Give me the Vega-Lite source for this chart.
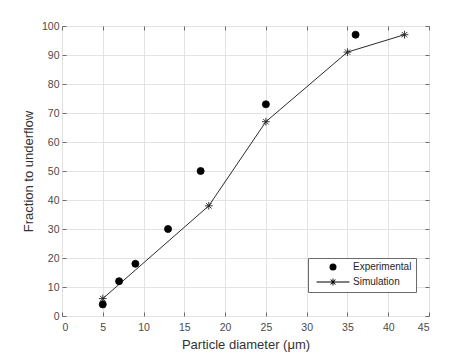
{
  "$schema": "https://vega.github.io/schema/vega-lite/v6.json",
  "width": 367,
  "height": 290,
  "autosize": {"type": "none"},
  "padding": {"left": 62, "top": 26, "right": 45, "bottom": 39},
  "background": "white",
  "config": {
    "view": {"stroke": "#6b6b6b", "strokeWidth": 1},
    "font": "Liberation Sans",
    "axis": {
      "domain": false,
      "tickSize": -4,
      "tickColor": "#6b6b6b",
      "gridColor": "#e3e3e3",
      "labelFont": "Liberation Sans",
      "labelFontSize": 10.5,
      "labelColor": "#4a4a4a",
      "titleFont": "Liberation Sans",
      "titleFontSize": 13,
      "titleFontWeight": "normal",
      "titleColor": "#333333"
    }
  },
  "data": {
    "values": [
      {"series": "Experimental", "d": 5, "f": 4},
      {"series": "Experimental", "d": 7, "f": 12},
      {"series": "Experimental", "d": 9, "f": 18},
      {"series": "Experimental", "d": 13, "f": 30},
      {"series": "Experimental", "d": 17, "f": 50},
      {"series": "Experimental", "d": 25, "f": 73},
      {"series": "Experimental", "d": 36, "f": 97},
      {"series": "Simulation", "d": 5, "f": 6},
      {"series": "Simulation", "d": 18, "f": 38},
      {"series": "Simulation", "d": 25, "f": 67},
      {"series": "Simulation", "d": 35, "f": 91},
      {"series": "Simulation", "d": 42, "f": 97}
    ]
  },
  "layer": [
    {
      "transform": [{"filter": "datum.series === 'Simulation'"}],
      "mark": {"type": "line", "color": "#2b2b2b", "strokeWidth": 1},
      "encoding": {
        "x": {
          "field": "d", "type": "quantitative",
          "scale": {"domain": [0, 45], "nice": false},
          "axis": {"orient": "bottom", "values": [0,5,10,15,20,25,30,35,40,45], "grid": true, "labelPadding": 10, "title": "Particle diameter (μm)", "titlePadding": 6}
        },
        "y": {
          "field": "f", "type": "quantitative",
          "scale": {"domain": [0, 100], "nice": false},
          "axis": {"orient": "left", "values": [0,10,20,30,40,50,60,70,80,90,100], "grid": true, "labelPadding": 7, "title": "Fraction to underflow", "titlePadding": 6}
        }
      }
    },
    {
      "transform": [{"filter": "datum.series === 'Simulation'"}],
      "mark": {"type": "point", "shape": "M-1,0L1,0M0,-1L0,1M-0.7,-0.7L0.7,0.7M-0.7,0.7L0.7,-0.7", "filled": false, "stroke": "#222222", "strokeWidth": 0.9, "opacity": 1, "size": 60},
      "encoding": {
        "x": {
          "field": "d", "type": "quantitative",
          "axis": {"orient": "top", "values": [0,5,10,15,20,25,30,35,40,45], "grid": false, "labels": false, "title": null}
        },
        "y": {
          "field": "f", "type": "quantitative",
          "axis": {"orient": "right", "values": [0,10,20,30,40,50,60,70,80,90,100], "grid": false, "labels": false, "title": null}
        }
      }
    },
    {
      "transform": [{"filter": "datum.series === 'Experimental'"}],
      "mark": {"type": "point", "filled": true, "fill": "black", "stroke": "black", "strokeWidth": 0.8, "opacity": 1, "size": 50},
      "encoding": {
        "x": {"field": "d", "type": "quantitative", "axis": null},
        "y": {"field": "f", "type": "quantitative", "axis": null},
        "shape": {
          "field": "series", "type": "nominal",
          "scale": {"domain": ["Experimental", "Simulation"], "range": ["circle", "M-4.7,-0.13L4.7,-0.13L4.7,0.13L-4.7,0.13ZM-0.13,-1L0.13,-1L0.13,1L-0.13,1ZM-0.61,-0.79L0.79,0.61L0.61,0.79L-0.79,-0.61ZM-0.79,0.61L0.61,-0.79L0.79,-0.61L-0.61,0.79Z"]},
          "legend": {
            "title": null,
            "orient": "none",
            "legendX": 246,
            "legendY": 232,
            "direction": "vertical",
            "fillColor": "white",
            "strokeColor": "#6b6b6b",
            "padding": 4,
            "symbolSize": 49,
            "symbolOffset": 16,
            "labelOffset": 15,
            "labelFont": "Liberation Sans",
            "labelFontSize": 10,
            "labelColor": "#262626",
            "rowPadding": 3,
            "symbolFillColor": "black",
            "symbolStrokeColor": "black",
            "symbolStrokeWidth": 0.9
          }
        }
      }
    }
  ],
  "resolve": {"axis": {"x": "independent", "y": "independent"}}
}
